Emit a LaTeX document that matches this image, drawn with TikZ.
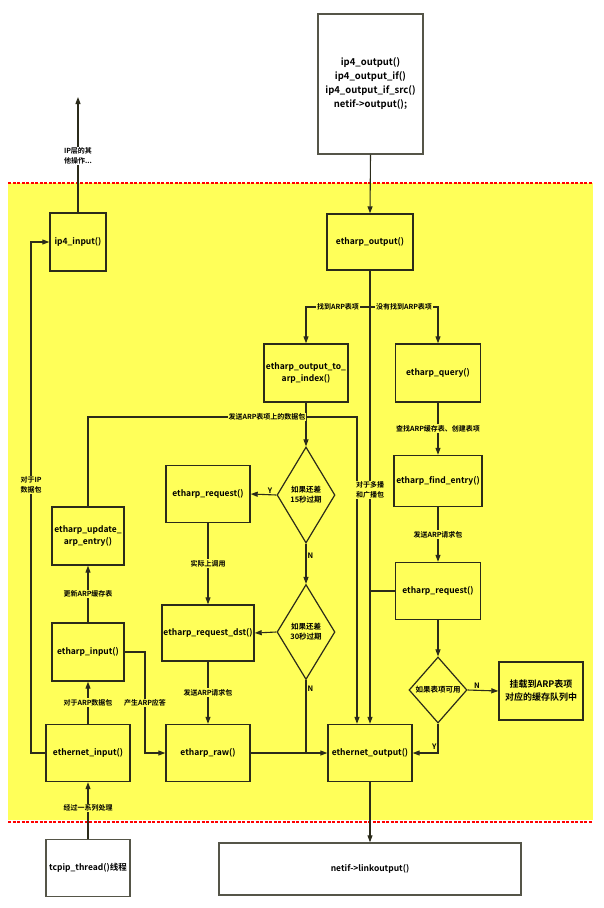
\documentclass[tikz,border=0pt]{standalone}
\usepackage{fontspec}
\setmainfont{Noto Sans CJK SC}[BoldFont={Noto Sans CJK SC Bold}]
\usetikzlibrary{arrows.meta,shapes.geometric,calc}
\definecolor{yel}{HTML}{FFFF59}
\definecolor{ink}{HTML}{2B2B1A}
\tikzset{
 box/.style={draw=ink,line width=1.4pt,fill=yel,inner sep=1pt,align=center,font=\fontsize{8.5}{12}\selectfont\bfseries},
 wbox/.style={box,fill=white,draw=ink!80},
 dia/.style={draw=ink,line width=1.2pt,diamond,inner sep=0pt,align=center,font=\fontsize{7.5}{10}\selectfont\bfseries,fill=yel},
 ln/.style={draw=ink,line width=1.1pt},
 ar/.style={ln,-{Triangle[length=7pt,width=5pt]}},
 lab/.style={fill=yel,inner sep=1pt,align=center,font=\fontsize{7}{9.5}\selectfont\bfseries},
 yn/.style={inner sep=1pt,font=\fontsize{7.5}{9}\selectfont\bfseries}
}
\begin{document}
\begin{tikzpicture}[x=1pt,y=-1pt]
\useasboundingbox (0,0) rectangle (603,908);
\fill[yel] (8,183) rectangle (593,820);
\draw[red,line width=2.2pt,dash pattern=on 3pt off 1.5pt] (8,183) -- (593,183);
\draw[red,line width=2.2pt,dash pattern=on 3pt off 1.5pt] (8,822) -- (593,822);
% nodes
\node[wbox,minimum width=105pt,minimum height=140pt,font=\fontsize{9.5}{14}\selectfont\bfseries] (top) at (370.5,84) {ip4\_output()\\ip4\_output\_if()\\ip4\_output\_if\_src()\\netif->output();};
\node[box,minimum width=56pt,minimum height=58pt] (ip4in) at (78,242) {ip4\_input()};
\node[box,minimum width=86pt,minimum height=56pt] (eo) at (370,242) {etharp\_output()};
\node[box,minimum width=84pt,minimum height=58pt] (idx) at (306,373) {etharp\_output\_to\_\\arp\_index()};
\node[box,minimum width=85pt,minimum height=58pt] (query) at (438,373) {etharp\_query()};
\node[box,minimum width=88pt,minimum height=51pt] (find) at (438,481) {etharp\_find\_entry()};
\node[box,minimum width=85pt,minimum height=57pt] (reqR) at (438,591) {etharp\_request()};
\node[dia,minimum width=58pt,minimum height=66pt] (d3) at (438,690) {如果表项可用};
\node[box,minimum width=84pt,minimum height=58pt,font=\fontsize{9}{13}\selectfont\bfseries] (queue) at (541,691) {挂载到ARP表项\\对应的缓存队列中};
\node[box,minimum width=84pt,minimum height=57pt] (ethout) at (370,753) {ethernet\_output()};
\node[dia,minimum width=58pt,minimum height=96pt] (d1) at (306,495) {如果还差\\15秒过期};
\node[dia,minimum width=58pt,minimum height=95pt] (d2) at (306,632) {如果还差\\30秒过期};
\node[box,minimum width=84pt,minimum height=57pt] (reqL) at (208,494) {etharp\_request()};
\node[box,minimum width=92pt,minimum height=56pt] (dst) at (208,633) {etharp\_request\_dst()};
\node[box,minimum width=84pt,minimum height=57pt] (raw) at (208,753) {etharp\_raw()};
\node[box,minimum width=72pt,minimum height=58pt] (upd) at (88,536) {etharp\_update\_\\arp\_entry()};
\node[box,minimum width=72pt,minimum height=58pt] (ain) at (88,652) {etharp\_input()};
\node[box,minimum width=84pt,minimum height=57pt] (ethin) at (88,753) {ethernet\_input()};
\node[wbox,minimum width=84pt,minimum height=57pt] (thread) at (88,868) {tcpip\_thread()线程};
\node[wbox,minimum width=302pt,minimum height=52pt] (link) at (370,869) {netif->linkoutput()};
\coordinate (up) at (78,97);
\coordinate (br) at (370,307);
\coordinate (mc) at ($(ethout.north)+(-13,0)$);
% connectors
\draw[ar] (top.south) -- (eo.north);
\draw[ar] (ip4in.north) -- (up);
\node[lab,fill=white] at (78,156) {IP层的其\\他操作...};
\draw[ar] (eo.south) -- (ethout.north);
\draw[ar] (br) -| (idx.north);
\draw[ar] (br) -| (query.north);
\node[lab] at (338,307) {找到ARP表项};
\node[lab] at (404,307) {没有找到ARP表项};
\draw[ar] (idx.south) -- (d1.north);
\draw[ar] (upd.north) |- (mc |- 0,417) -- (mc);
\node[lab] at (267,417) {发送ARP表项上的数据包};
\node[lab] at (370,490) {对于多播\\和广播包};
\draw[ar] (query.south) -- node[lab]{查找ARP缓存表、创建表项} (find.north);
\draw[ar] (find.south) -- node[lab]{发送ARP请求包} (reqR.north);
\draw[ln] (reqR.west) -- (370,591);
\draw[ar] (reqR.south) -- (d3.north);
\draw[ar] (d3.east) -- node[yn,above,pos=0.3]{N} (queue.west);
\draw[ar] (d3.south) |- node[yn,left,pos=0.4]{Y} (ethout.east);
\draw[ar] (d1.west) -- node[yn,above,pos=0.25]{Y} (reqL.east);
\draw[ar] (d1.south) -- node[yn,right,pos=0.3]{N} (d2.north);
\draw[ar] (d2.west) -- (dst.east);
\draw[ln] (d2.south) -- node[yn,right,pos=0.12]{N} (d2.south |- raw.east);
\draw[ar] (reqL.south) -- node[lab]{实际上调用} (dst.north);
\draw[ar] (dst.south) -- node[lab]{发送ARP请求包} (raw.north);
\draw[ar] (raw.east) -- (ethout.west);
\draw[ar] (ain.north) -- node[lab]{更新ARP缓存表} (upd.south);
\draw[ar] (ethin.north) -- node[lab]{对于ARP数据包} (ain.south);
\draw[ar] (ain.east) -- (145,652) |- (raw.west);
\node[lab] at (145,703) {产生ARP应答};
\draw[ar] (ethin.west) -- (31,753) |- (ip4in.west);
\node[lab] at (31,485) {对于IP\\数据包};
\draw[ar] (thread.north) -- (ethin.south);
\node[lab] at (88,808) {经过一系列处理};
\draw[ar] (ethout.south) -- (link.north);
\end{tikzpicture}
\end{document}
